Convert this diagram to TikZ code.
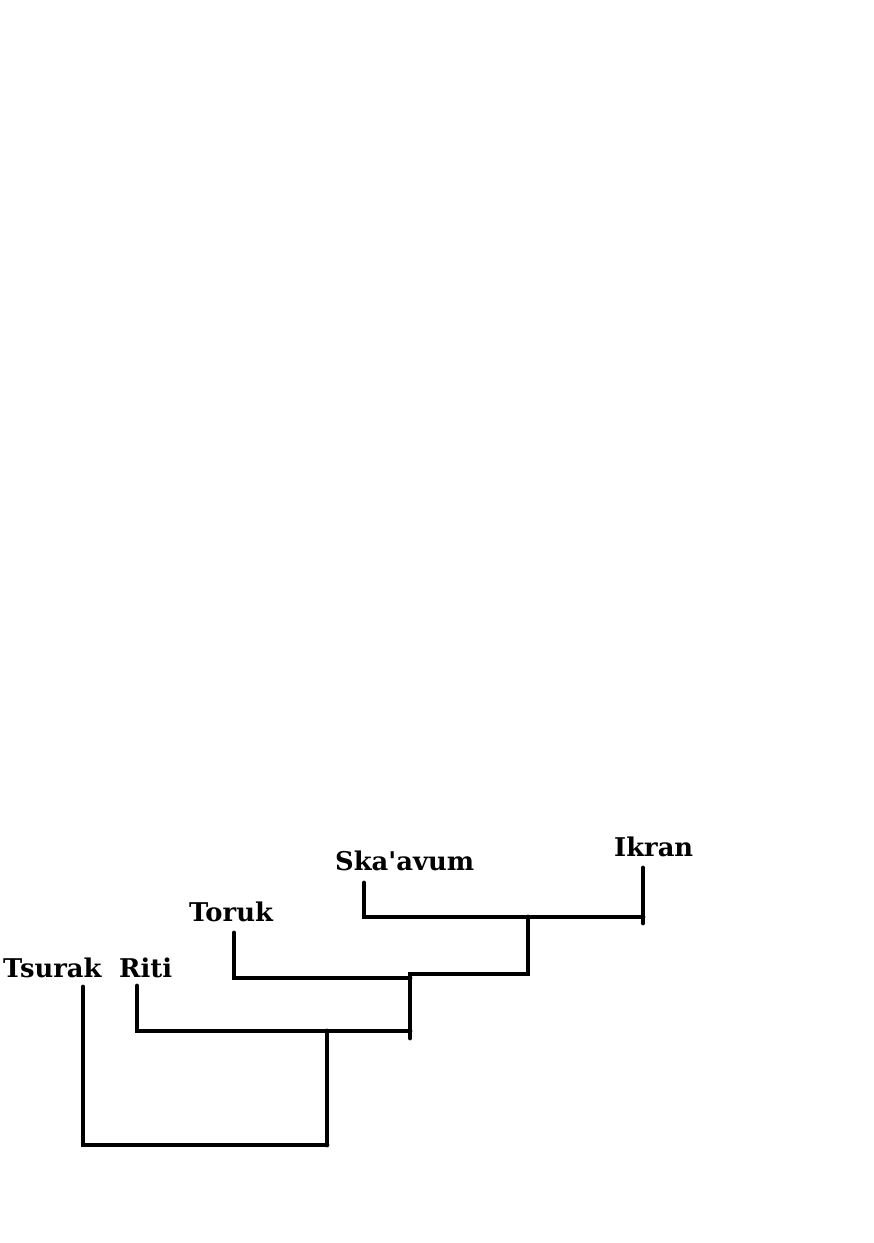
\documentclass[tikz,border=0pt]{standalone}
\usepackage{fontspec}
\newfontfamily\lblfont{DejaVu Serif}
\begin{document}
\begin{tikzpicture}[x=1pt,y=-1pt,
  lbl/.style={anchor=base west,inner sep=0pt,font=\lblfont\bfseries\fontsize{25.8}{30}\selectfont},
  branch/.style={line width=4.8pt,line cap=round,line join=miter}]
\useasboundingbox (0,0) rectangle (874,1243);
% labels
\node[lbl] (tsurak) at (3,977) {Tsurak};
\node[lbl] (riti) at (119,977) {Riti};
\node[lbl] (toruk) at (189,921) {Toruk};
\node[lbl] (skaavum) at (335,870) {Ska'avum};
\node[lbl] (ikran) at (614,856) {Ikran};
% stub tops
\coordinate (tsT) at (83,987);
\coordinate (riT) at (137,986);
\coordinate (toT) at (234,933);
\coordinate (skT) at (364,883);
\coordinate (ikT) at (643,868);
\coordinate (ikB) at (643,923);
% joints
\coordinate (j1) at (643,917);
\coordinate (j1m) at (528,917);
\coordinate (j2) at (410,974);
\coordinate (j2b) at (410,1038);
\coordinate (j3r) at (410,978);
\coordinate (j4r) at (410,1031);
\coordinate (j4m) at (327,1031);
\coordinate (j5) at (327,1145);
% branches
\draw[branch] (ikT) -- (ikB);
\draw[branch] (skT) |- (j1);
\draw[branch] (j1m) |- (j2) -- (j2b);
\draw[branch] (toT) |- (j3r);
\draw[branch] (riT) |- (j4r);
\draw[branch] (j4m) -- (j5);
\draw[branch] (tsT) |- (j5);
\end{tikzpicture}
\end{document}
